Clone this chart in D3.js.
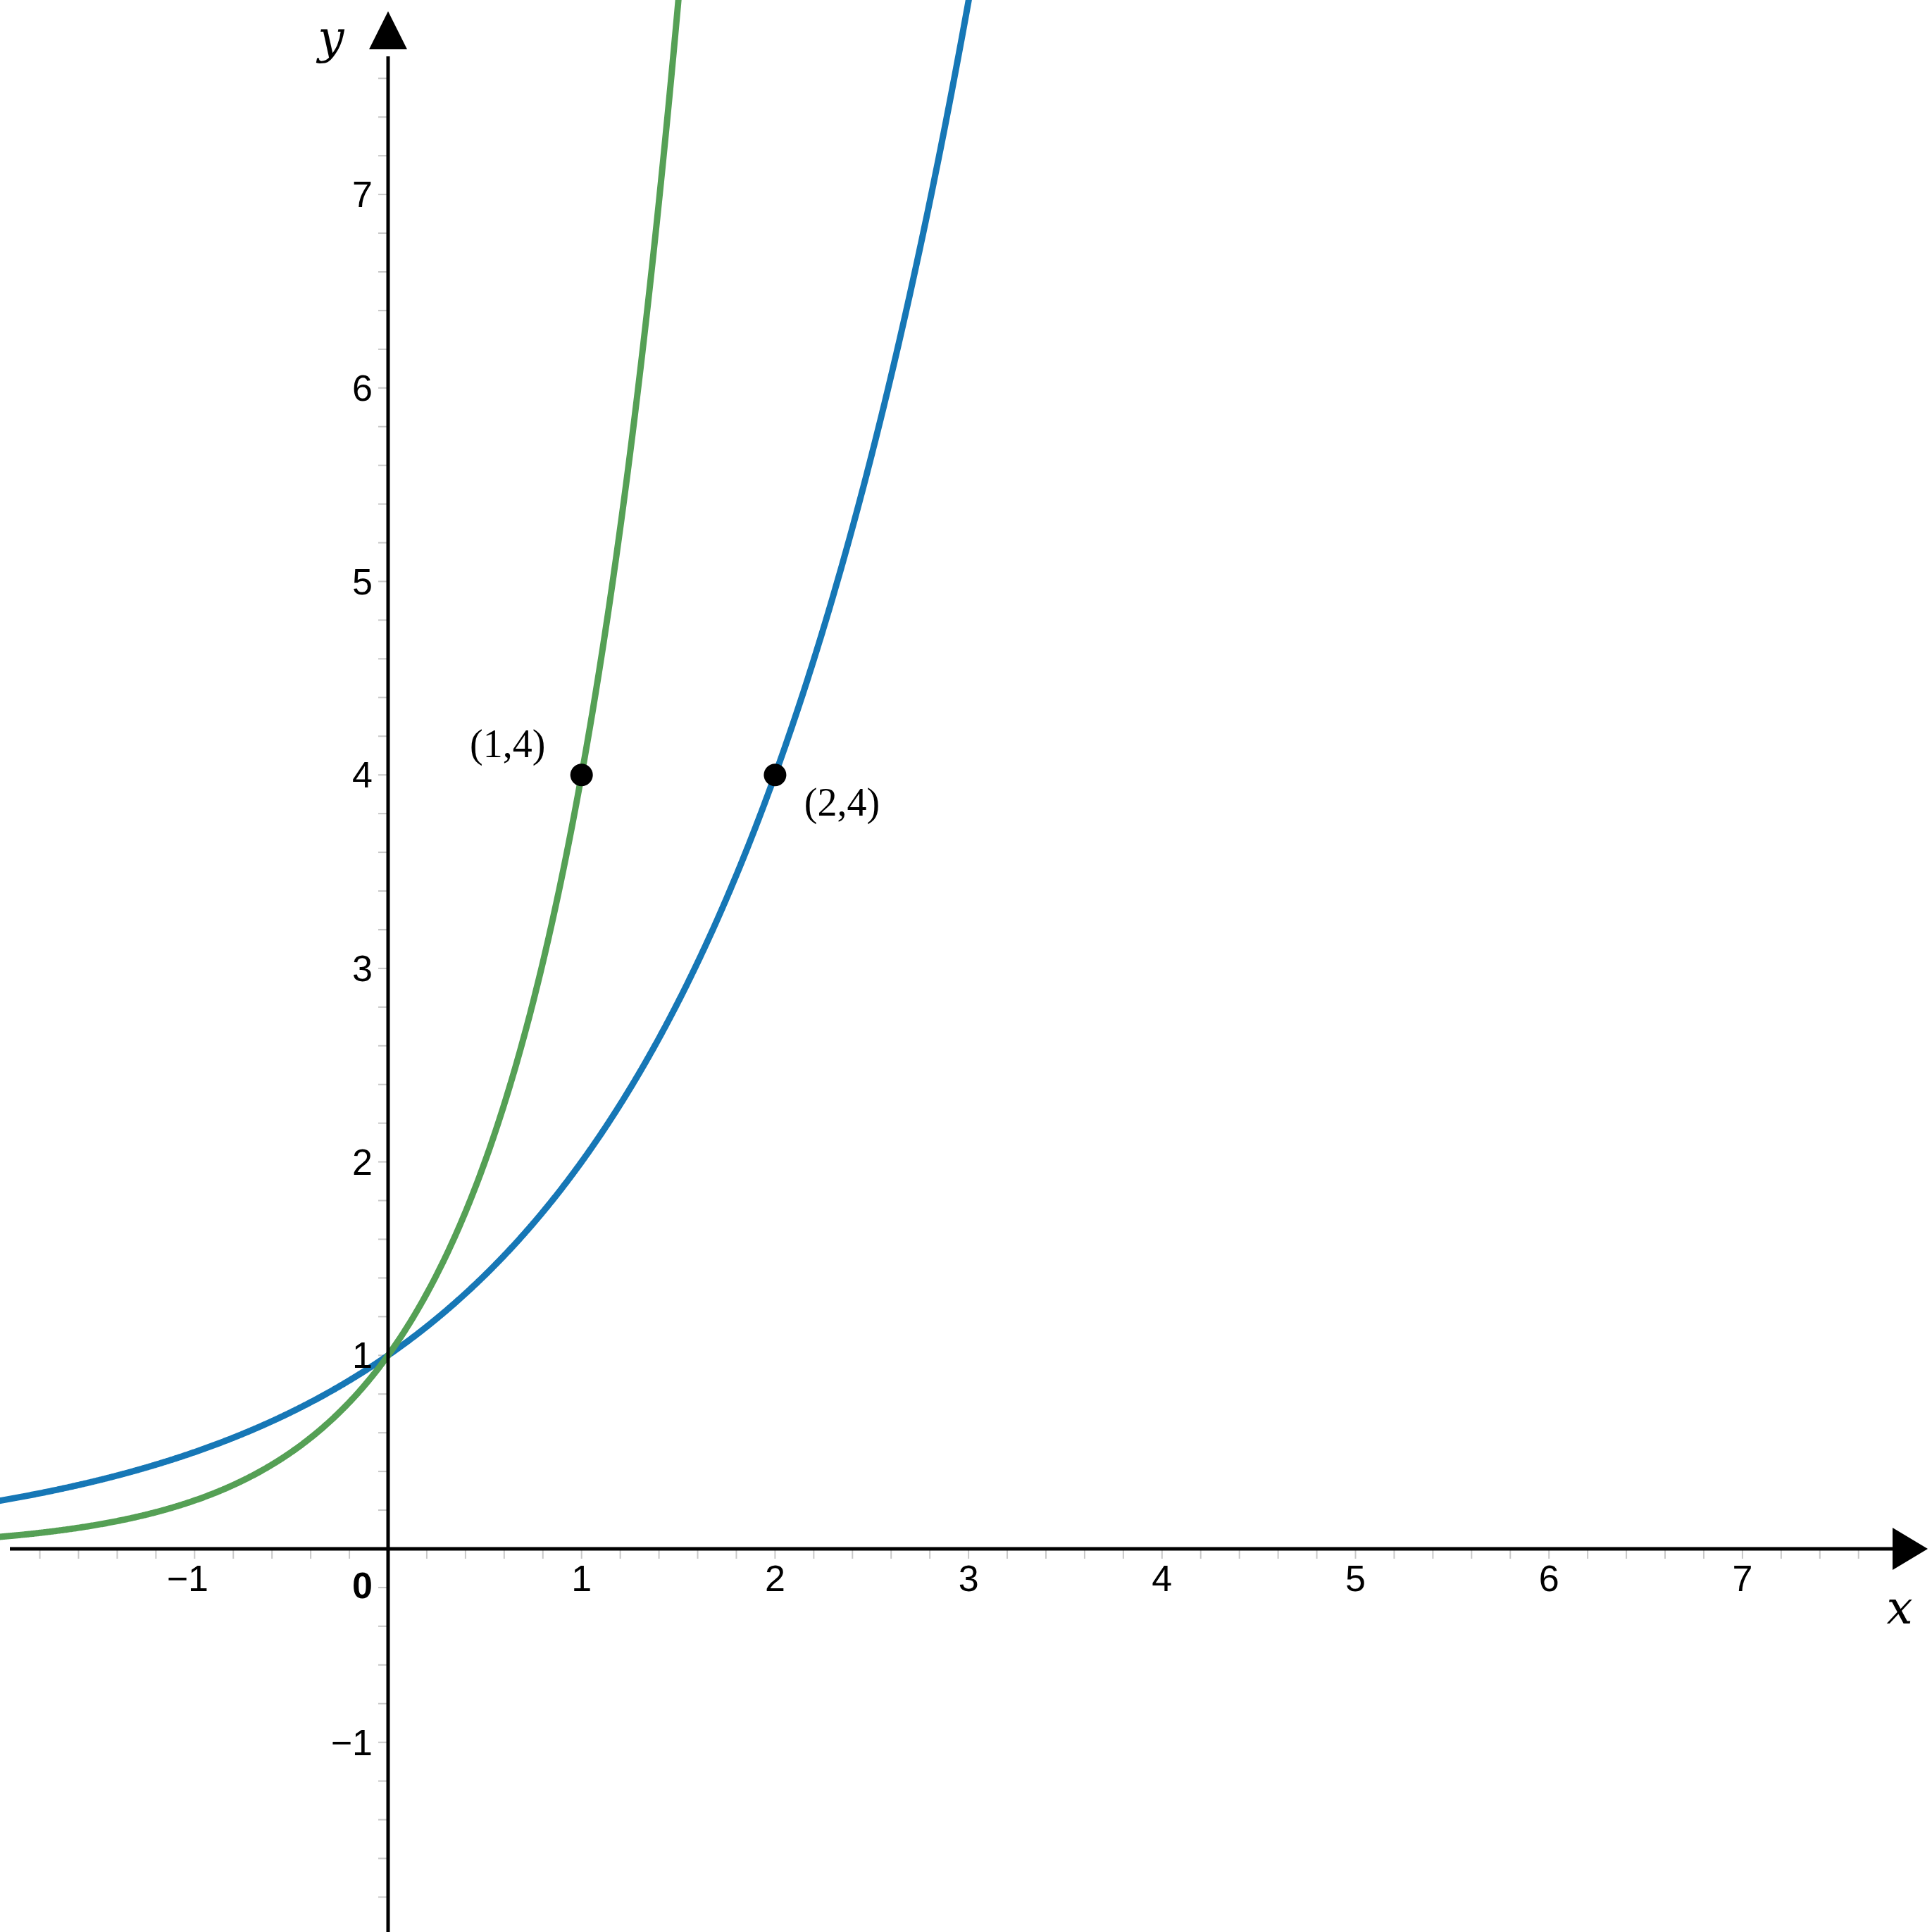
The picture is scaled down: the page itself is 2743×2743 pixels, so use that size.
<!DOCTYPE html>
<html><head><meta charset="utf-8">
<script src="https://cdn.jsdelivr.net/npm/d3@7"></script>
<style>body{margin:0;background:#fff}</style>
</head><body>
<script>
"use strict";

var xTicks = [-1, 1, 2, 3, 4, 5, 6, 7];
var yTicks = [-1, 1, 2, 3, 4, 5, 6, 7];
var bases = [2, 4];
var curveColors = ["#1677b6", "#55a055"];
var points = [[1, 4], [2, 4]];
var pointLabels = ["(1,4)", "(2,4)"];

var W = 2743, H = 2743;
var unit = 274.7, ox = 551, oy = 2199;

var x = d3.scaleLinear().domain([0, 1]).range([ox, ox + unit]);
var y = d3.scaleLinear().domain([0, 1]).range([oy, oy - unit]);

var svg = d3.select("body").append("svg").attr("width", W).attr("height", H);

//minor ticks every 0.2
var minorX = d3.range(-10, 40).map(function(i){ return i / 5; }).filter(function(v){ return x(v) > 10 && x(v) < 2680; });
var minorY = d3.range(-10, 40).map(function(i){ return i / 5; }).filter(function(v){ return y(v) > 90 && y(v) < 2740; });

svg.selectAll(".mx").data(minorX).enter().append("line")
	.attr("x1", function(d){ return x(d); }).attr("x2", function(d){ return x(d); })
	.attr("y1", oy).attr("y2", oy + 14)
	.style("stroke", "#c8c8c8").style("stroke-width", 2);
svg.selectAll(".my").data(minorY).enter().append("line")
	.attr("y1", function(d){ return y(d); }).attr("y2", function(d){ return y(d); })
	.attr("x1", ox - 14).attr("x2", ox)
	.style("stroke", "#c8c8c8").style("stroke-width", 2);

//curves
var line = d3.line().x(function(d){ return x(d[0]); }).y(function(d){ return y(d[1]); });
bases.forEach(function(b, i){
	var pts = d3.range(-2.05, 3.2, 0.005).map(function(t){ return [t, Math.pow(b, t)]; })
		.filter(function(p){ return p[1] < 8.2; });
	svg.append("path").attr("d", line(pts))
		.style("fill", "none").style("stroke", curveColors[i]).style("stroke-width", 9);
});

//axes
svg.append("line").attr("x1", 14).attr("x2", 2690).attr("y1", oy).attr("y2", oy)
	.style("stroke", "#000").style("stroke-width", 5);
svg.append("line").attr("x1", ox).attr("x2", ox).attr("y1", 80).attr("y2", H)
	.style("stroke", "#000").style("stroke-width", 5);
svg.append("path").attr("d", "M2687," + (oy - 30) + "L2737," + oy + "L2687," + (oy + 30) + "Z").style("fill", "#000");
svg.append("path").attr("d", "M" + (ox - 27) + ",70L" + ox + ",16L" + (ox + 27) + ",70Z").style("fill", "#000");

//tick labels
var sans = "'Liberation Sans', Arial, sans-serif";
function fmt(d){ return d < 0 ? "\u2212" + (-d) : String(d); }
svg.selectAll(".xl").data(xTicks).enter().append("text")
	.attr("x", function(d){ return x(d) + (d < 0 ? -10 : 0); }).attr("y", oy + 60)
	.attr("text-anchor", "middle").style("font-family", sans).style("font-size", "52px")
	.text(fmt);
svg.selectAll(".yl").data(yTicks).enter().append("text")
	.attr("x", ox - 22).attr("y", function(d){ return y(d) + 18; })
	.attr("text-anchor", "end").style("font-family", sans).style("font-size", "52px")
	.text(fmt);
svg.append("text").attr("x", ox - 22).attr("y", oy + 70).attr("text-anchor", "end")
	.style("font-family", sans).style("font-size", "52px").style("font-weight", "bold").text("0");

//axis names
var serif = "'DejaVu Serif', 'Liberation Serif', serif";
svg.append("text").attr("x", 2697).attr("y", 2305).attr("text-anchor", "middle")
	.style("font-family", serif).style("font-style", "italic").style("font-size", "66px").text("x");
svg.append("text").attr("x", 470).attr("y", 75).attr("text-anchor", "middle")
	.style("font-family", serif).style("font-style", "italic").style("font-size", "66px").text("y");

//points and labels
svg.selectAll(".pt").data(points).enter().append("circle")
	.attr("cx", function(d){ return x(d[0]); }).attr("cy", function(d){ return y(d[1]); })
	.attr("r", 16).style("fill", "#000");
var labelDx = [-105, 95], labelDy = [-25, 58];
svg.selectAll(".pl").data(points).enter().append("text")
	.attr("x", function(d, i){ return x(d[0]) + labelDx[i]; })
	.attr("y", function(d, i){ return y(d[1]) + labelDy[i]; })
	.attr("text-anchor", "middle").style("font-family", "'Liberation Serif', serif").style("font-size", "56px")
	.text(function(d, i){ return pointLabels[i]; });
</script>
</body></html>
